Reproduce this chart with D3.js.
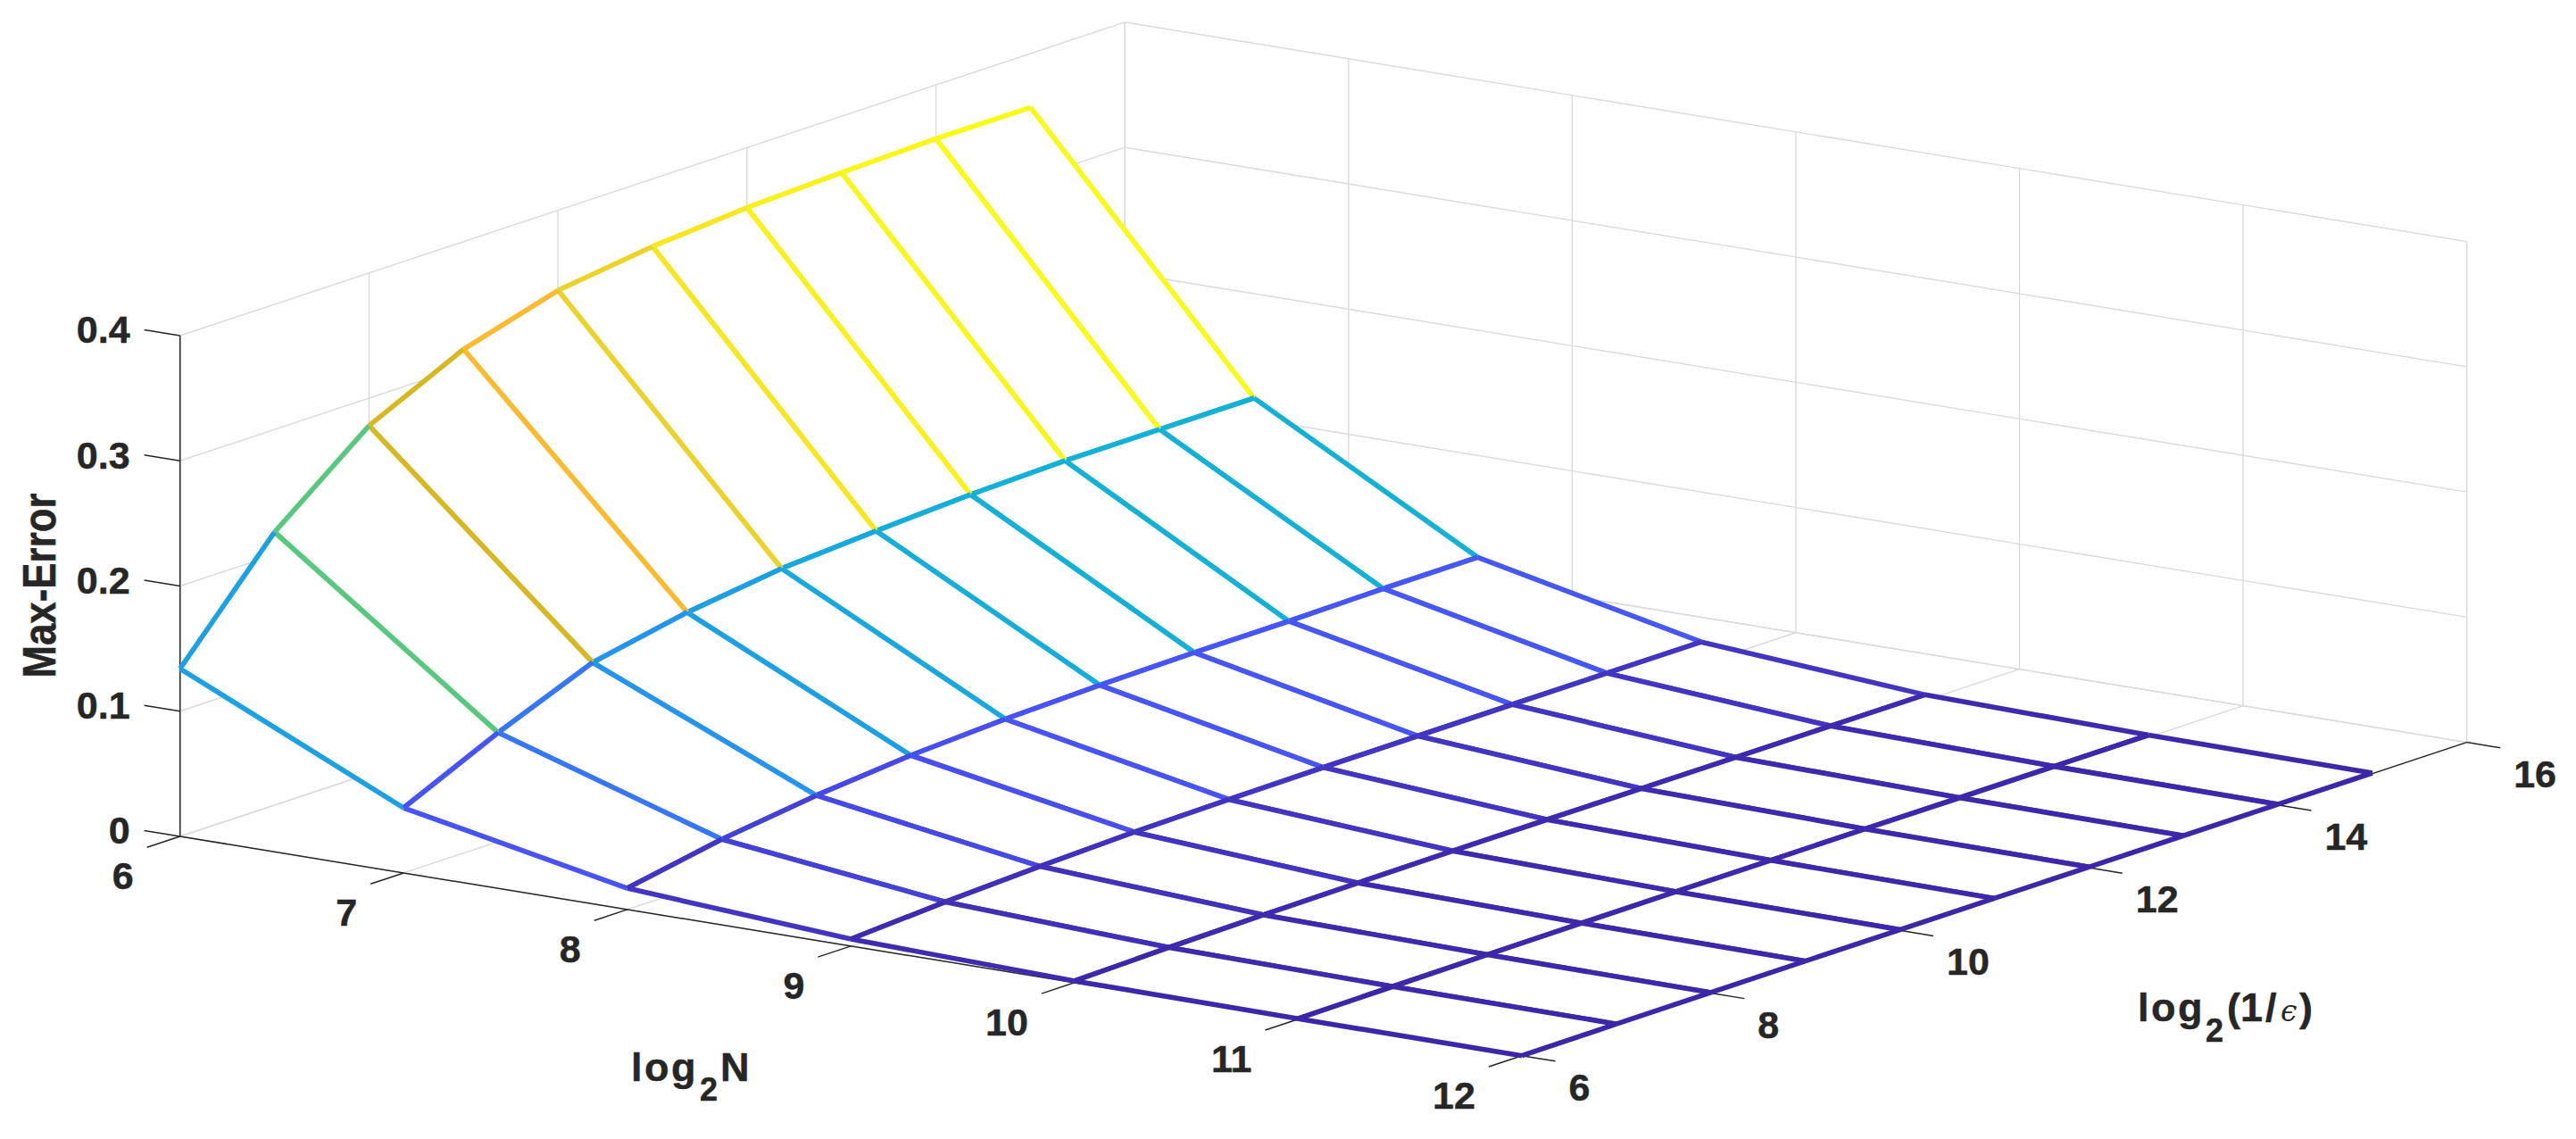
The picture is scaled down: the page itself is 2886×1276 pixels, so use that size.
<!DOCTYPE html>
<html>
<head>
<meta charset="utf-8">
<script src="https://cdn.jsdelivr.net/npm/d3@7"></script>
<style>
  body { margin: 0; background: #fff; }
  svg { display: block; }
  text { font-family: "Liberation Sans", Arial, sans-serif; font-weight: bold; fill: #262626; stroke: #262626; stroke-width: 0.5px; }
</style>
</head>
<body>
<svg id="chart" width="2886" height="1276"></svg>
<script>
// mesh samples
const logN = [6, 7, 8, 9, 10, 11, 12];
const logEps = [6, 7, 8, 9, 10, 11, 12, 13, 14, 15];
const errN6 = [0.134, 0.218, 0.278, 0.314, 0.336, 0.346, 0.352, 0.355, 0.357, 0.357];
const errN7 = [0.052, 0.087, 0.118, 0.133, 0.143, 0.148, 0.152, 0.154, 0.154, 0.154];
const errN8 = [0.017, 0.031, 0.041, 0.048, 0.052, 0.054, 0.055, 0.055, 0.056, 0.056];
const errN9 = [0.0056, 0.0102, 0.0136, 0.0159, 0.0169, 0.0175, 0.0176, 0.0177, 0.0177, 0.0176];
const errN10 = [0.0013, 0.003, 0.004, 0.0045, 0.005, 0.005, 0.0048, 0.0047, 0.0047, 0.0046];
const errN11 = [0.0004, 0.001, 0.0014, 0.0016, 0.0017, 0.0017, 0.0017, 0.0016, 0.0016, 0.0016];
const errN12 = [0, 0.0003, 0.0004, 0.0005, 0.0005, 0.0005, 0.0005, 0.0005, 0.0005, 0.0005];
const errors = [errN6, errN7, errN8, errN9, errN10, errN11, errN12];

const nTicks = [6, 7, 8, 9, 10, 11, 12];
const epsTicks = [6, 8, 10, 12, 14, 16];
const zTicks = [0, 0.1, 0.2, 0.3, 0.4];

const gridColor = '#dadada';
const axisColor = '#262626';
const meshWidth = 5.6;

const parulaAt = [0, 0.143, 0.286, 0.429, 0.571, 0.714, 0.78, 0.88, 0.94, 0.97, 1];
const parula = ['#3e26a8', '#4852f4', '#2d87f7', '#12b1d6', '#37c897', '#abc739', '#d8b822', '#fcbb2e', '#ecd22a', '#f7e81e', '#f9fb14'];

// the view is orthographic so each data axis just maps to a screen offset
const origin = { x: 201.7, y: 937 };
const nX = d3.scaleLinear().domain([6, 12]).range([0, 1503.3]);
const nY = d3.scaleLinear().domain([6, 12]).range([0, 245.7]);
const eX = d3.scaleLinear().domain([6, 16]).range([0, 1058.6]);
const eY = d3.scaleLinear().domain([6, 16]).range([0, -351.1]);
const zY = d3.scaleLinear().domain([0, 0.4]).range([0, -561]);

const project = (n, e, z) => [
  origin.x + nX(n) + eX(e),
  origin.y + nY(n) + eY(e) + zY(z)
];

const color = d3
  .scaleLinear()
  .domain(parulaAt.map(t => t * 0.357))
  .range(parula)
  .clamp(true);

const lineGen = d3.line();
const svg = d3.select('#chart');

const segment = (parent, a, b, stroke, width) =>
  parent
    .append('path')
    .attr('d', lineGen([a, b]))
    .attr('fill', 'none')
    .attr('stroke', stroke)
    .attr('stroke-width', width);

// walls and floor
const grid = svg.append('g');
zTicks.forEach(z => {
  segment(grid, project(6, 6, z), project(6, 16, z), gridColor, 1.4);
  segment(grid, project(6, 16, z), project(12, 16, z), gridColor, 1.4);
});
epsTicks.forEach(e => {
  segment(grid, project(6, e, 0), project(6, e, 0.4), gridColor, 1.4);
  segment(grid, project(6, e, 0), project(12, e, 0), gridColor, 1.4);
});
nTicks.forEach(n => {
  segment(grid, project(n, 16, 0), project(n, 16, 0.4), gridColor, 1.4);
  segment(grid, project(n, 6, 0), project(n, 16, 0), gridColor, 1.4);
});

// axes
const axes = svg.append('g');
segment(axes, project(6, 6, 0), project(6, 6, 0.4), axisColor, 1.5);
segment(axes, project(6, 6, 0), project(12, 6, 0), axisColor, 1.5);
segment(axes, project(12, 6, 0), project(12, 16, 0), axisColor, 1.5);

const label = (x, y, anchor, str) =>
  svg
    .append('text')
    .attr('x', x)
    .attr('y', y)
    .attr('text-anchor', anchor)
    .attr('font-size', 43)
    .text(str);

zTicks.forEach(z => {
  const a = project(6, 6, z);
  const b = project(5.84, 6, z);
  segment(axes, a, b, axisColor, 1.5);
  label(b[0] - 16, b[1] + 15, 'end', d3.format('~g')(z));
});
nTicks.forEach(n => {
  const a = project(n, 6, 0);
  const b = project(n, 5.65, 0);
  segment(axes, a, b, axisColor, 1.5);
  label(b[0] - 15, b[1] + 47, 'end', n);
});
epsTicks.forEach(e => {
  const a = project(12, e, 0);
  const b = project(12.15, e, 0);
  segment(axes, a, b, axisColor, 1.5);
  label(b[0] + 15, b[1] + 44, 'start', e);
});

// mesh, far cells first so the white faces hide what is behind them
const cells = [];
d3.range(logEps.length - 2, -1, -1).forEach(j => {
  d3.range(0, logN.length - 1).forEach(i => cells.push({ i, j }));
});

const vertex = (i, j) => project(logN[i], logEps[j], errors[i][j]);
const tint = (i, j) => color(errors[i][j]);

svg
  .append('g')
  .selectAll('g')
  .data(cells)
  .join('g')
  .each(function ({ i, j }) {
    const g = d3.select(this);
    g.append('path')
      .attr('d', lineGen([vertex(i, j), vertex(i + 1, j), vertex(i + 1, j + 1), vertex(i, j + 1)]) + 'Z')
      .attr('fill', '#fff');
    segment(g, vertex(i, j + 1), vertex(i + 1, j + 1), tint(i, j + 1), meshWidth);
    segment(g, vertex(i + 1, j), vertex(i + 1, j + 1), tint(i + 1, j), meshWidth);
    segment(g, vertex(i, j), vertex(i, j + 1), tint(i, j), meshWidth);
    segment(g, vertex(i, j), vertex(i + 1, j), tint(i, j), meshWidth);
  });

// axis titles
svg
  .append('text')
  .attr('transform', 'translate(62,656) rotate(-90) scale(0.86,1)')
  .attr('text-anchor', 'middle')
  .attr('font-size', 51)
  .text('Max-Error');

const nTitle = svg.append('text').attr('font-size', 45);
nTitle.append('tspan').attr('x', 707).attr('y', 1210.7).attr('letter-spacing', 2.5).text('log');
nTitle.append('tspan').attr('x', 784).attr('y', 1233).attr('font-size', 36).text('2');
nTitle.append('tspan').attr('x', 807).attr('y', 1210.7).text('N');

const epsTitle = svg.append('text').attr('font-size', 45);
epsTitle.append('tspan').attr('x', 2395).attr('y', 1144).attr('letter-spacing', 2.5).text('log');
epsTitle.append('tspan').attr('x', 2471).attr('y', 1167).attr('font-size', 36).text('2');
epsTitle.append('tspan').attr('x', 2495).attr('y', 1144).text('(1');
epsTitle.append('tspan').attr('x', 2538).attr('y', 1144).text('/');
epsTitle
  .append('tspan')
  .attr('x', 2555)
  .attr('y', 1144)
  .style('font-family', '"DejaVu Serif", serif')
  .style('font-style', 'italic')
  .style('font-weight', 'normal')
  .style('stroke-width', 0)
  .attr('font-size', 33)
  .text('\u03f5');
epsTitle.append('tspan').attr('x', 2576).attr('y', 1144).text(')');
</script>
</body>
</html>
